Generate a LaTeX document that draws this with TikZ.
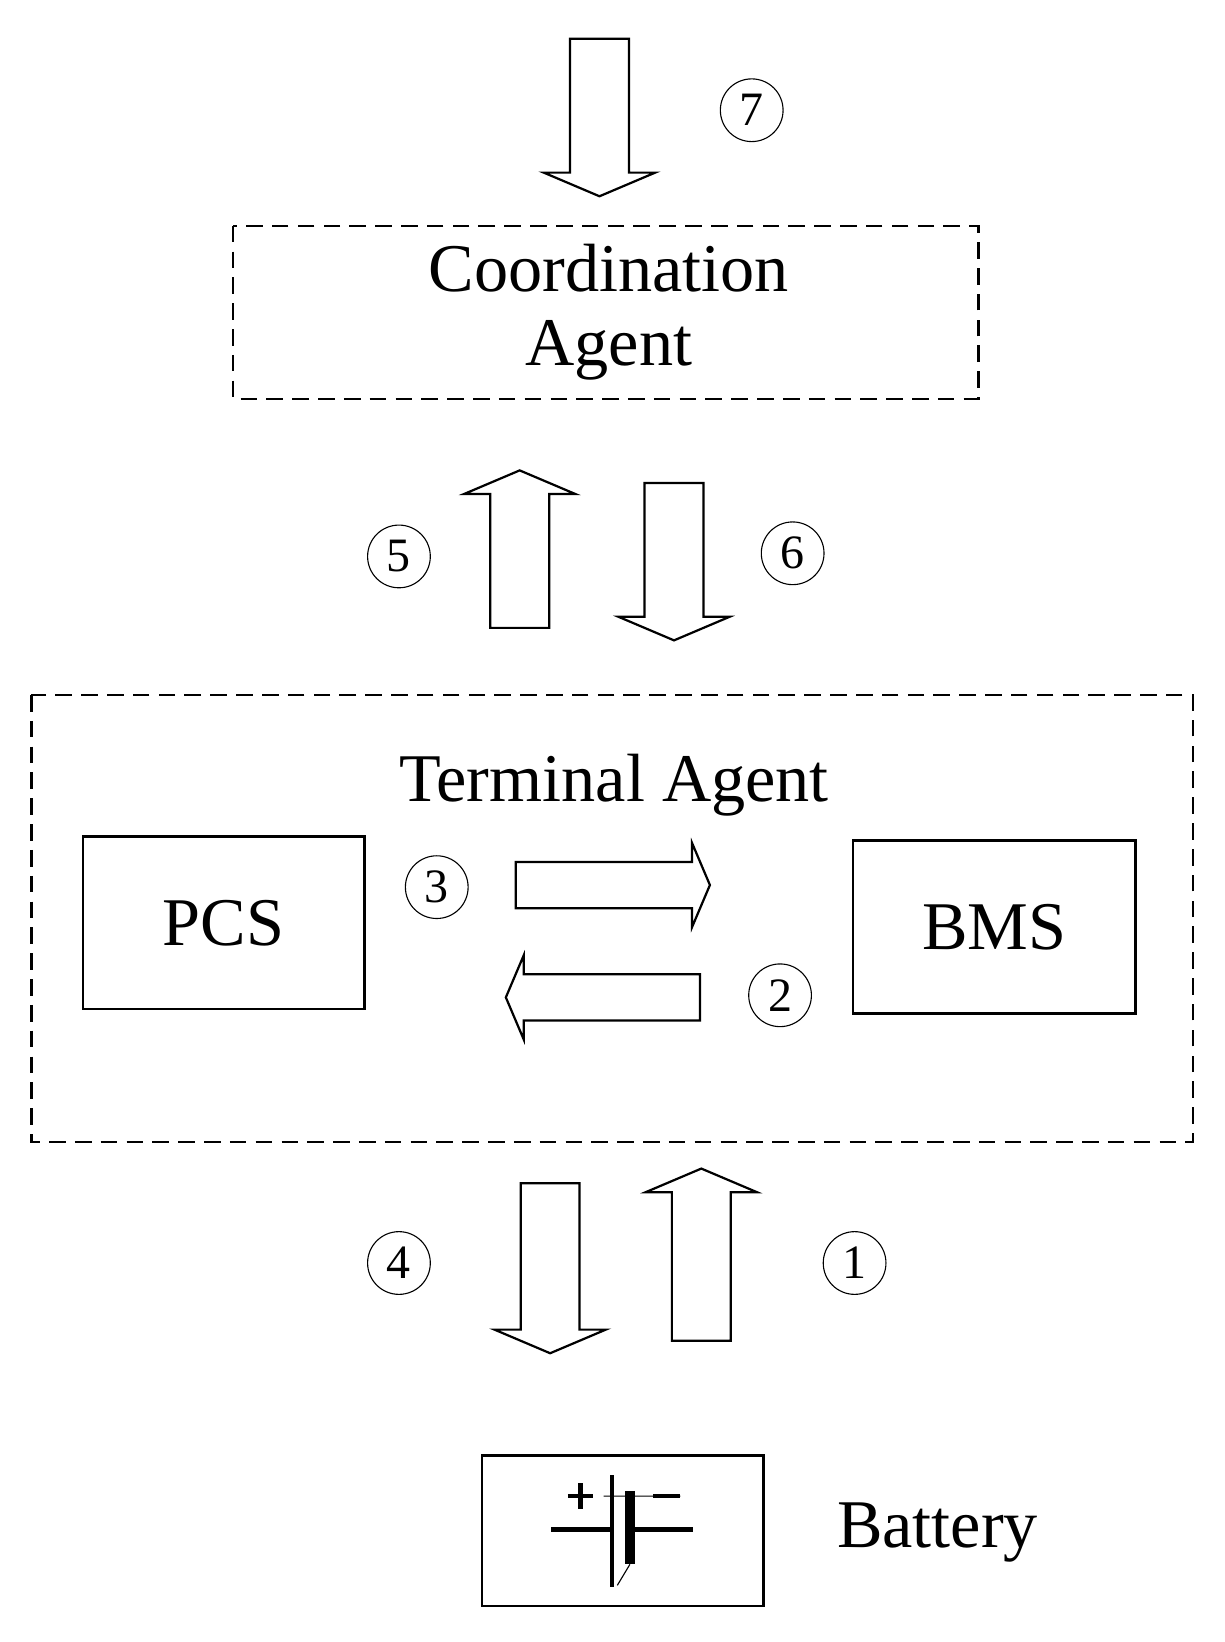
\documentclass[tikz,border=0pt]{standalone}
\usepackage{fontspec}
\setmainfont{Liberation Serif}
\usetikzlibrary{shapes.arrows}

\begin{document}
\begin{tikzpicture}[x=0.02cm,y=-0.02cm,thick,
		big arrow/.style={single arrow,draw,line width=1.2pt,inner sep=0pt,
			minimum height=#1,single arrow tip angle=134},
		wide/.style={minimum width=100*0.02cm,single arrow head extend=25*0.02cm,inner ysep=27*0.02cm},
		narrow/.style={minimum width=76*0.02cm,single arrow head extend=18*0.02cm,inner ysep=21*0.02cm},
		dash box/.style={draw,dashed,line width=1.2pt,dash pattern=on 9pt off 5pt},
		solid box/.style={draw,line width=1.4pt},
		step num/.style={circle,draw,line width=0.6pt,minimum size=34pt,inner sep=0pt,font=\fontsize{26}{26}\selectfont},
		label text/.style={font=\fontsize{37}{40}\selectfont,align=center}]
		\useasboundingbox (0,0) rectangle (1166,1564);
		
		% boxes
		\draw[dash box] (222,215) rectangle (932,380);
		\node[label text] (coord) at (580,297) {Coordination\\Agent};
		\draw[dash box] (30,662) rectangle (1136,1088);
		\node[label text] (term) at (585,748) {Terminal Agent};
		\node[solid box,minimum width=268*0.02cm,minimum height=164*0.02cm,label text] (pcs) at (213,879) {PCS};
		\node[solid box,minimum width=269*0.02cm,minimum height=165*0.02cm,label text] (bms) at (947,883) {BMS};
		\node[solid box,minimum width=268*0.02cm,minimum height=143*0.02cm] (bat) at (593,1458) {};
		\node[label text] (battxt) at (893,1460) {Battery};
		
		% battery symbol
		\draw[line width=2.5pt] (525,1457) -- (583,1457) (600,1457) -- (660,1457);
		\draw[line width=2.5pt] (583,1405) -- (583,1512);
		\draw[line width=5pt] (600,1420) -- (600,1490);
		\draw[line width=0.6pt] (575,1425) -- (648,1425) (600,1490) -- (588,1510);
		\draw[line width=2.5pt] (541,1425) -- (565,1425) (553,1413) -- (553,1437) (622,1425) -- (648,1425);
		
		% arrows
		\node[big arrow=150*0.02cm,wide,rotate=-90] (a7) at (571,106) {};
		\node[big arrow=150*0.02cm,wide,rotate=90] (a5) at (495,529) {};
		\node[big arrow=150*0.02cm,wide,rotate=-90] (a6) at (642,529) {};
		\node[big arrow=185*0.02cm,narrow] (a3) at (579,843) {};
		\node[big arrow=185*0.02cm,narrow,rotate=180] (a2) at (579,950) {};
		\node[big arrow=162*0.02cm,wide,rotate=-90] (a4) at (524,1202) {};
		\node[big arrow=164*0.02cm,wide,rotate=90] (a1) at (668,1201) {};
		
		% step numbers
		\node[step num] (n7) at (716,105) {7};
		\node[step num] (n5) at (380,530) {5};
		\node[step num] (n6) at (755,527) {6};
		\node[step num] (n3) at (416,845) {3};
		\node[step num] (n2) at (743,948) {2};
		\node[step num] (n4) at (380,1203) {4};
		\node[step num] (n1) at (814,1203) {1};
\end{tikzpicture}
\end{document}
